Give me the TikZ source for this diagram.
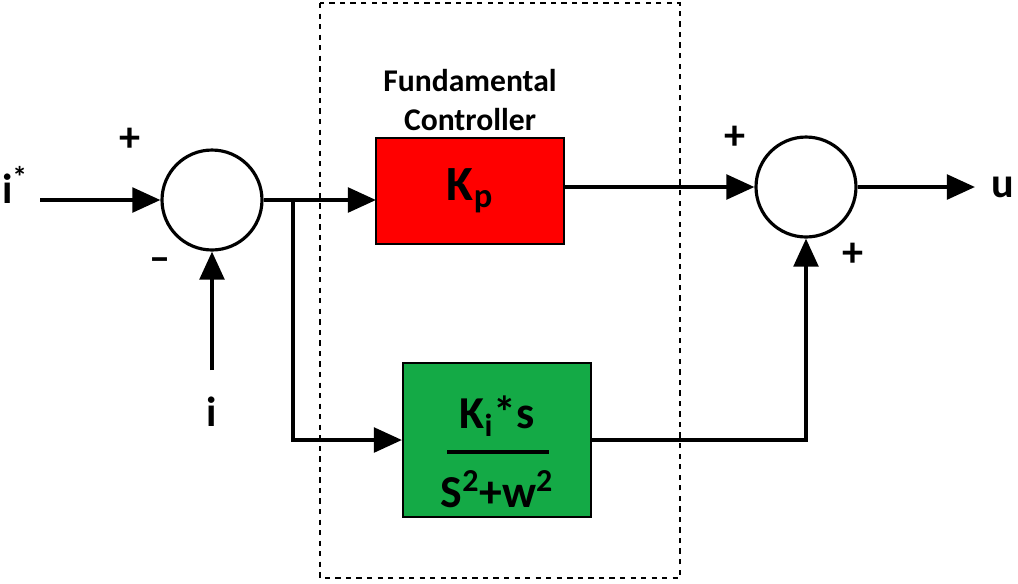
\documentclass[tikz,border=0pt]{standalone}
\usepackage{fontspec}
\setmainfont{Carlito}
\usetikzlibrary{arrows.meta}
\begin{document}
\begin{tikzpicture}[x=0.02cm,y=-0.02cm,
  sig/.style={line width=2.2pt,-{Triangle[length=16pt,width=14pt]}},
  sum/.style={circle,draw,line width=1.8pt,minimum size=2cm,inner sep=0pt},
  lbl/.style={font=\bfseries\fontsize{24}{26}\selectfont},
  blk/.style={draw,line width=1.2pt,inner sep=0pt}]
\useasboundingbox (0,0) rectangle (1018,583);
\draw[dashed,line width=1.2pt] (320,3) rectangle (680,578);
\node[sum] (s1) at (212,200) {};
\node[sum] (s2) at (806,187) {};
\node[blk,fill=red,minimum width=3.76cm,minimum height=2.12cm] (kp) at (470,191) {\fontsize{28}{30}\selectfont\bfseries K\textsubscript{p}};
\node[blk,fill={rgb,255:red,20;green,170;blue,70},minimum width=3.76cm,minimum height=3.08cm] (g) at (497,440) {};
\node[font=\bfseries\fontsize{26}{28}\selectfont] (num) at (497,416) {K\textsubscript{i}*s};
\node[font=\bfseries\fontsize{26}{28}\selectfont] (den) at (497,489) {S\textsuperscript{2}+w\textsuperscript{2}};
\draw[line width=2.5pt] (447,452) -- (549,452);
\node[font=\bfseries\fontsize{18}{20}\selectfont,align=center] (t) at (470,100) {Fundamental\\[2pt]Controller};
\node[lbl] (is) at (15,185) {i\textsuperscript{*}};
\node[lbl] (i) at (212,412) {i};
\node[lbl] (u) at (1003,187) {u};
\node[lbl] at (130,140) {+};
\node[lbl] at (160,265) {\textendash};
\node[lbl] at (735,138) {+};
\node[lbl] at (853,255) {+};
\coordinate (a) at (40,200);
\coordinate (b) at (212,370);
\coordinate (br) at (293,200);
\coordinate (ko) at (564,187);
\draw[sig] (a) -- (s1.west);
\draw[sig] (b) -- (s1.south);
\draw[sig] (s1.east) -- (376,200);
\draw[sig] (br) |- (g.west);
\draw[sig] (ko) -- (s2.west);
\draw[sig] (g.east) -| (s2.south);
\draw[sig] (s2.east) -- (975,187);
\end{tikzpicture}
\end{document}
